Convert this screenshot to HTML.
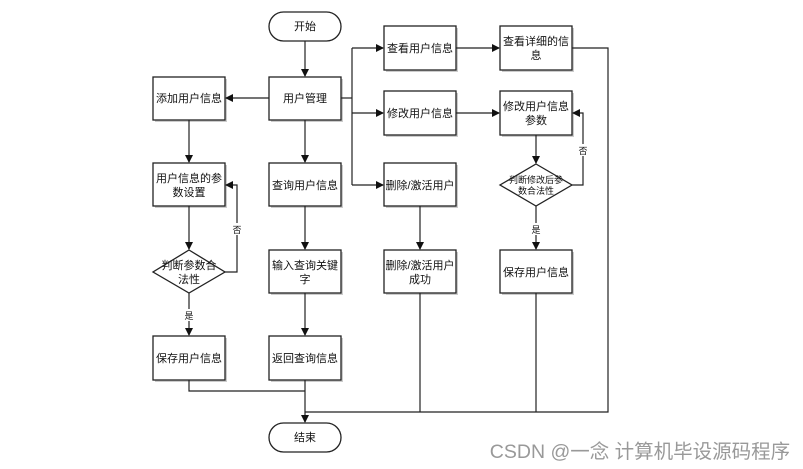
<!DOCTYPE html>
<html><head><meta charset="utf-8"><style>
html,body{margin:0;padding:0;background:#fff;}
svg{display:block;}
text{font-family:"Liberation Sans","Noto Sans CJK SC",sans-serif;font-size:11px;fill:#111;text-anchor:middle;}
.b{fill:#fff;stroke:#222;stroke-width:1.3;}
.l{fill:none;stroke:#222;stroke-width:1.2;}
.sm{font-size:9px;}
</style></head><body>
<svg width="803" height="469" viewBox="0 0 803 469" xmlns="http://www.w3.org/2000/svg">
<defs><marker id="a" markerWidth="8" markerHeight="8" refX="7" refY="4" orient="auto" markerUnits="userSpaceOnUse"><path d="M0,0 L8,4 L0,8 z" fill="#111"/></marker></defs>
<g fill="#ccc">
<rect x="155" y="79" width="72" height="43"/><rect x="271" y="79" width="72" height="43"/>
<rect x="155" y="165" width="72" height="43"/><rect x="271" y="165" width="72" height="43"/>
<rect x="386" y="28" width="72" height="44"/><rect x="386" y="93" width="72" height="44"/><rect x="386" y="165" width="72" height="43"/>
<rect x="502" y="28" width="72" height="44"/><rect x="502" y="93" width="72" height="44"/>
<rect x="271" y="252" width="72" height="43"/><rect x="386" y="252" width="72" height="43"/><rect x="502" y="252" width="72" height="43"/>
<rect x="155" y="338" width="72" height="44"/><rect x="271" y="338" width="72" height="44"/>
</g>
<path class="l" d="M305 41 V76" marker-end="url(#a)"/>
<path class="l" d="M269 98 H226" marker-end="url(#a)"/>
<path class="l" d="M189 120 V162" marker-end="url(#a)"/>
<path class="l" d="M305 120 V162" marker-end="url(#a)"/>
<path class="l" d="M341 98 H352"/>
<path class="l" d="M352 48 V185"/>
<path class="l" d="M352 48 H383" marker-end="url(#a)"/>
<path class="l" d="M352 113 H383" marker-end="url(#a)"/>
<path class="l" d="M352 185 H383" marker-end="url(#a)"/>
<path class="l" d="M456 48 H499" marker-end="url(#a)"/>
<path class="l" d="M456 113 H499" marker-end="url(#a)"/>
<path class="l" d="M189 206 V249" marker-end="url(#a)"/>
<path class="l" d="M225 272 H237 V185 H226" marker-end="url(#a)"/>
<path class="l" d="M189 293 V335" marker-end="url(#a)"/>
<path class="l" d="M305 206 V249" marker-end="url(#a)"/>
<path class="l" d="M305 293 V335" marker-end="url(#a)"/>
<path class="l" d="M420 206 V249" marker-end="url(#a)"/>
<path class="l" d="M536 135 V163" marker-end="url(#a)"/>
<path class="l" d="M572 185 H583 V113 H573" marker-end="url(#a)"/>
<path class="l" d="M536 206 V249" marker-end="url(#a)"/>
<path class="l" d="M189 380 V391 H305"/>
<path class="l" d="M305 380 V422" marker-end="url(#a)"/>
<path class="l" d="M572 48 H608 V412 H305"/>
<path class="l" d="M420 293 V412"/>
<path class="l" d="M536 293 V412"/>
<rect x="231" y="223" width="12" height="12" fill="#fff"/><text x="237" y="233" class="sm">否</text>
<rect x="183" y="309" width="12" height="12" fill="#fff"/><text x="189" y="319" class="sm">是</text>
<rect x="577" y="144" width="12" height="12" fill="#fff"/><text x="583" y="154" class="sm">否</text>
<rect x="530" y="223" width="12" height="12" fill="#fff"/><text x="536" y="233" class="sm">是</text>
<rect class="b" x="269" y="12" width="72" height="29" rx="14.5"/><text x="305" y="30">开始</text>
<rect class="b" x="269" y="77" width="72" height="43"/><text x="305" y="102">用户管理</text>
<rect class="b" x="153" y="77" width="72" height="43"/><text x="189" y="102">添加用户信息</text>
<rect class="b" x="153" y="163" width="72" height="43"/><text x="189" y="182">用户信息的参</text><text x="189" y="196">数设置</text>
<rect class="b" x="269" y="163" width="72" height="43"/><text x="305" y="189">查询用户信息</text>
<rect class="b" x="384" y="26" width="72" height="44"/><text x="420" y="52">查看用户信息</text>
<rect class="b" x="384" y="91" width="72" height="44"/><text x="420" y="117">修改用户信息</text>
<rect class="b" x="384" y="163" width="72" height="43"/><text x="420" y="189">删除/激活用户</text>
<rect class="b" x="500" y="26" width="72" height="44"/><text x="536" y="45">查看详细的信</text><text x="536" y="59">息</text>
<rect class="b" x="500" y="91" width="72" height="44"/><text x="536" y="110">修改用户信息</text><text x="536" y="124">参数</text>
<path class="b" d="M536 164 L572 185 L536 206 L500 185 z"/><text x="536" y="183" class="sm">判断修改后参</text><text x="536" y="194" class="sm">数合法性</text>
<path class="b" d="M189 250 L225 272 L189 293 L153 272 z"/><text x="189" y="269">判断参数合</text><text x="189" y="283">法性</text>
<rect class="b" x="269" y="250" width="72" height="43"/><text x="305" y="269">输入查询关键</text><text x="305" y="283">字</text>
<rect class="b" x="384" y="250" width="72" height="43"/><text x="420" y="269">删除/激活用户</text><text x="420" y="283">成功</text>
<rect class="b" x="500" y="250" width="72" height="43"/><text x="536" y="276">保存用户信息</text>
<rect class="b" x="153" y="336" width="72" height="44"/><text x="189" y="362">保存用户信息</text>
<rect class="b" x="269" y="336" width="72" height="44"/><text x="305" y="362">返回查询信息</text>
<rect class="b" x="269" y="423" width="72" height="29" rx="14.5"/><text x="305" y="441">结束</text>
<text x="640" y="458" style="font-size:19.5px;fill:#999;">CSDN @一念 计算机毕设源码程序</text>
</svg>
</body></html>
